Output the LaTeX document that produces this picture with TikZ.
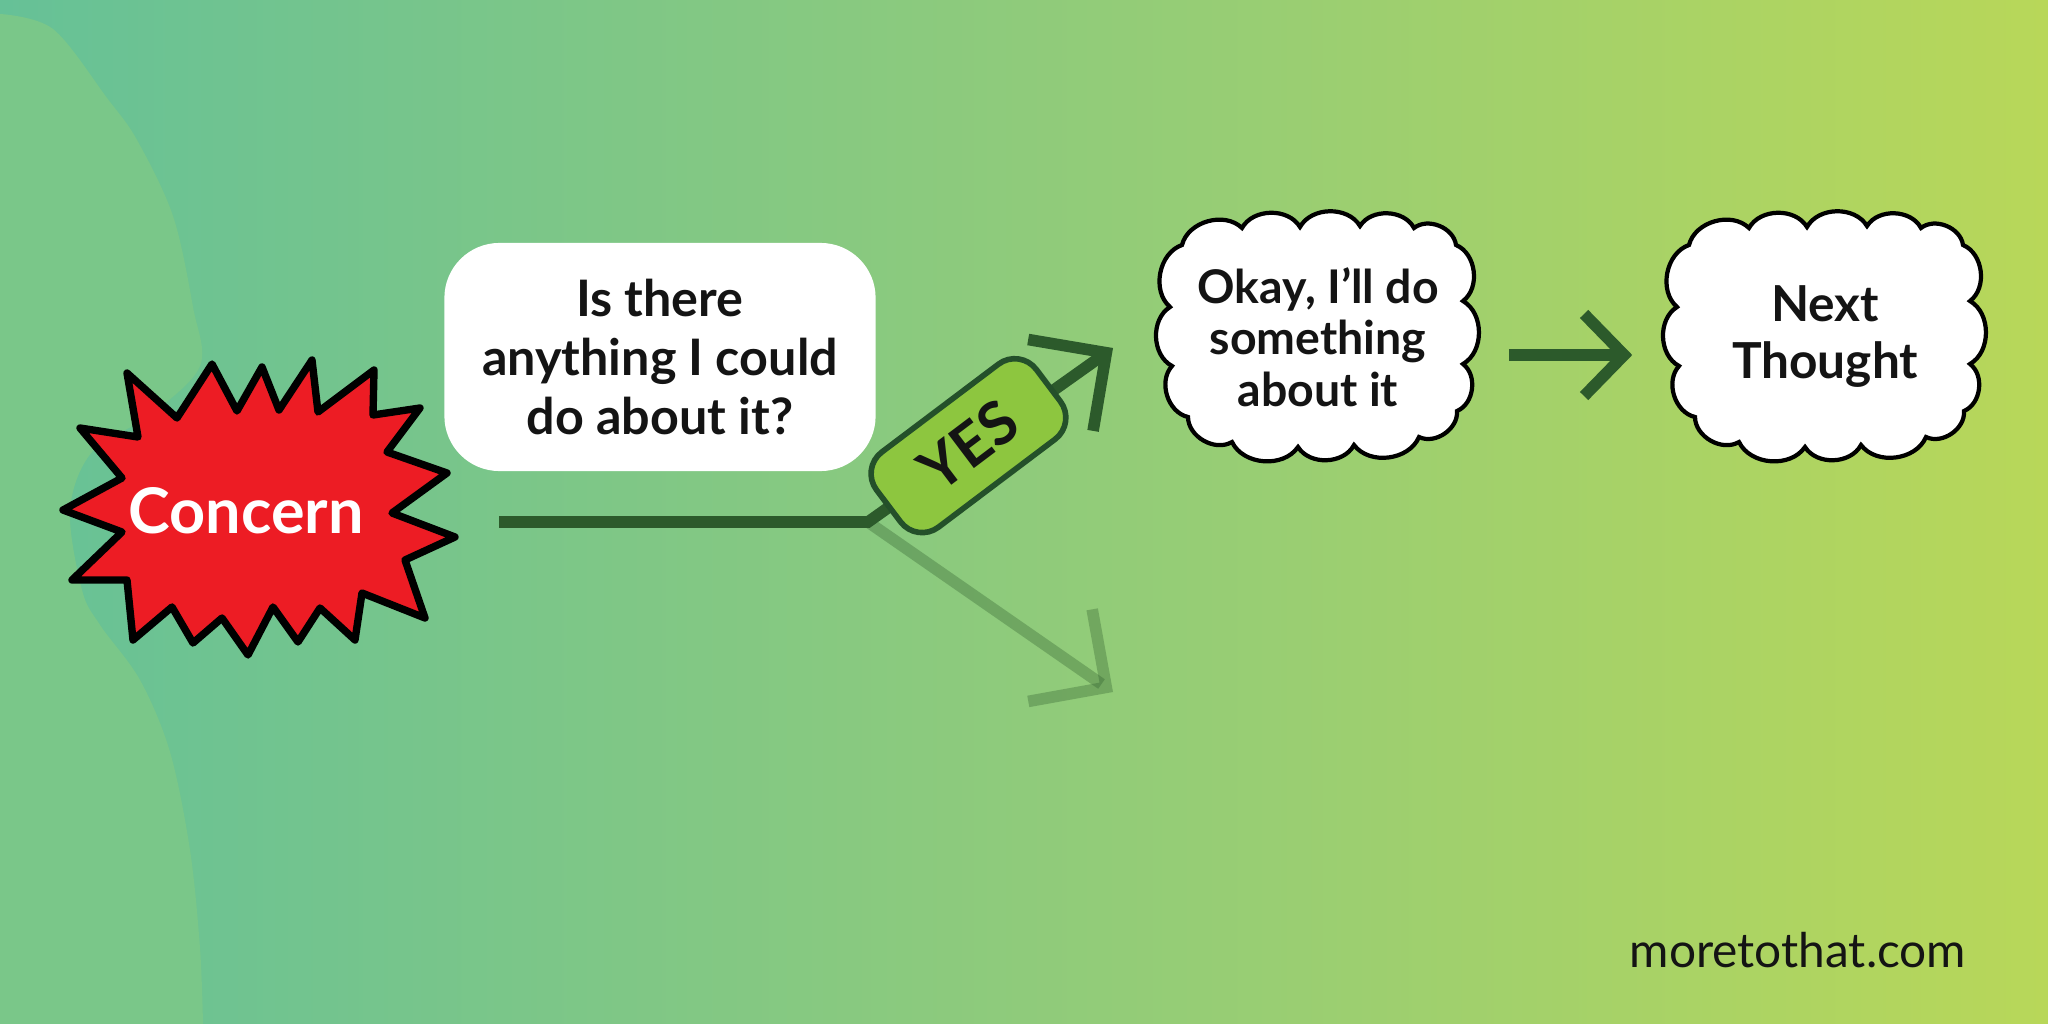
\documentclass[tikz,border=0pt]{standalone}
\usepackage{fontspec}
\setmainfont{Lato}
\usetikzlibrary{arrows.meta,calc}
\definecolor{bgL}{HTML}{66C197}
\definecolor{bgM}{HTML}{8FCB7B}
\definecolor{bgR}{HTML}{B8D759}
\definecolor{blobc}{HTML}{7AC789}
\definecolor{dkgreen}{HTML}{2C5A2B}
\definecolor{yesedge}{HTML}{24502A}
\definecolor{yesfill}{HTML}{8DC63F}
\definecolor{starred}{HTML}{ED1C24}
\definecolor{ink}{HTML}{141414}
\newcommand\cloudshape[1]{%
  \filldraw[cloudline, shift={(#1)}]
    (-136,-92) to (-76,-109) to (-18,-110) to (42,-111) to (96,-109)
    to (138,-92) to (145,-36) to (145,27) to (139,74) to (101,100)
    to (36,108) to (-20,110) to (-86,105) to (-130,80) to (-146,29)
    to (-148,-30) to (-136,-92) -- cycle;}
\begin{document}
\begin{tikzpicture}[x=0.01cm,y=-0.01cm,
  conn/.style={draw=dkgreen, line width=3.3pt},
  bigbarb/.style={-{Straight Barb[length=0.56cm,width=1.12cm]}},
  smallbarb/.style={-{Straight Barb[length=0.40cm,width=0.82cm]}},
  cloudline/.style={fill=white, draw=black, line width=1.2pt, every to/.style={bend left=60}},
  boxtext/.style={text=ink, align=center, inner sep=0pt},
  yesbox/.style={fill=yesfill, draw=yesedge, line width=1.6pt, rounded corners=0.27cm,
    minimum width=2.0cm, minimum height=0.94cm, inner sep=0pt, text=ink,
    font=\fontsize{17}{20}\selectfont\bfseries},
]
\useasboundingbox (0,0) rectangle (2048,1024);
% background
\shade[left color=bgL, right color=bgR, middle color=bgM] (0,0) rectangle (2048,1024);
\fill[blobc] plot[smooth, tension=0.55] coordinates {(0,14) (53,29) (107,98) (137,140) (173,216)
  (193,307) (200,366) (150,415) (92,452) (70,510) (82,590) (100,625) (140,680) (170,752)
  (190,850) (200,948) (203,1024)}
  -- (0,1024) -- cycle;
% concern star
\filldraw[fill=starred, draw=black, line width=2.1pt, line join=round]
  (63,510) -- (122,478) -- (80,428) -- (138,437) -- (127,373) -- (177,418) -- (212,364)
  -- (237,411) -- (262,367) -- (279,410) -- (312,360) -- (318,412) -- (374,370) -- (373,415)
  -- (420,408) -- (387,452) -- (447,473) -- (392,513) -- (455,537) -- (405,560) -- (425,618)
  -- (362,593) -- (355,640) -- (320,608) -- (298,642) -- (273,607) -- (248,655) -- (222,618)
  -- (193,643) -- (172,607) -- (133,640) -- (127,580) -- (72,580) -- (122,532) -- cycle;
\node[text=white, inner sep=0pt, font=\fontsize{17.9}{21}\selectfont\bfseries] (concern) at (246,511) {Concern};
% question box
\node[fill=white, rounded corners=0.55cm, minimum width=4.31cm, minimum height=2.28cm,
  boxtext, font=\fontsize{14.3}{16.9}\selectfont\bfseries] (q) at (660,357)
  {Is there\\anything I could\\do about it?};
% clouds
\coordinate (c1c) at (1318,337);
\coordinate (c2c) at (1825,337);
\cloudshape{c1c}
\cloudshape{c2c}
\node[minimum width=3.2cm, minimum height=2.47cm, boxtext,
  font=\fontsize{13.2}{14.7}\selectfont\bfseries] (c1) at (c1c) {Okay, I’ll do\\something\\about it};
\node[minimum width=3.2cm, minimum height=2.47cm, boxtext,
  font=\fontsize{14.1}{16.2}\selectfont\bfseries] (c2) at (c2c) {Next\\Thought};
% connectors
\coordinate (lstart) at (499,522);
\coordinate (fork) at (868,522);
\coordinate (yestip) at (1113,348);
\coordinate (notip) at (1113,692);
\draw[conn, bigbarb, line join=miter] (lstart) -- (fork) -- (yestip);
\draw[conn, bigbarb, draw opacity=0.32] (fork) -- (notip);
\node[yesbox, rotate=37] (yes) at ($(fork)!0.41!(yestip)+(0,-5)$) {YES};
\draw[conn, smallbarb] ($(c1.east)+(30,18)$) -- ($(c2.west)+(-32,18)$);
% credit
\node[anchor=base, inner sep=0pt, text=ink, font=\fontsize{13.6}{16}\selectfont] (site) at (1798,967) {moretothat.com};
\end{tikzpicture}
\end{document}
